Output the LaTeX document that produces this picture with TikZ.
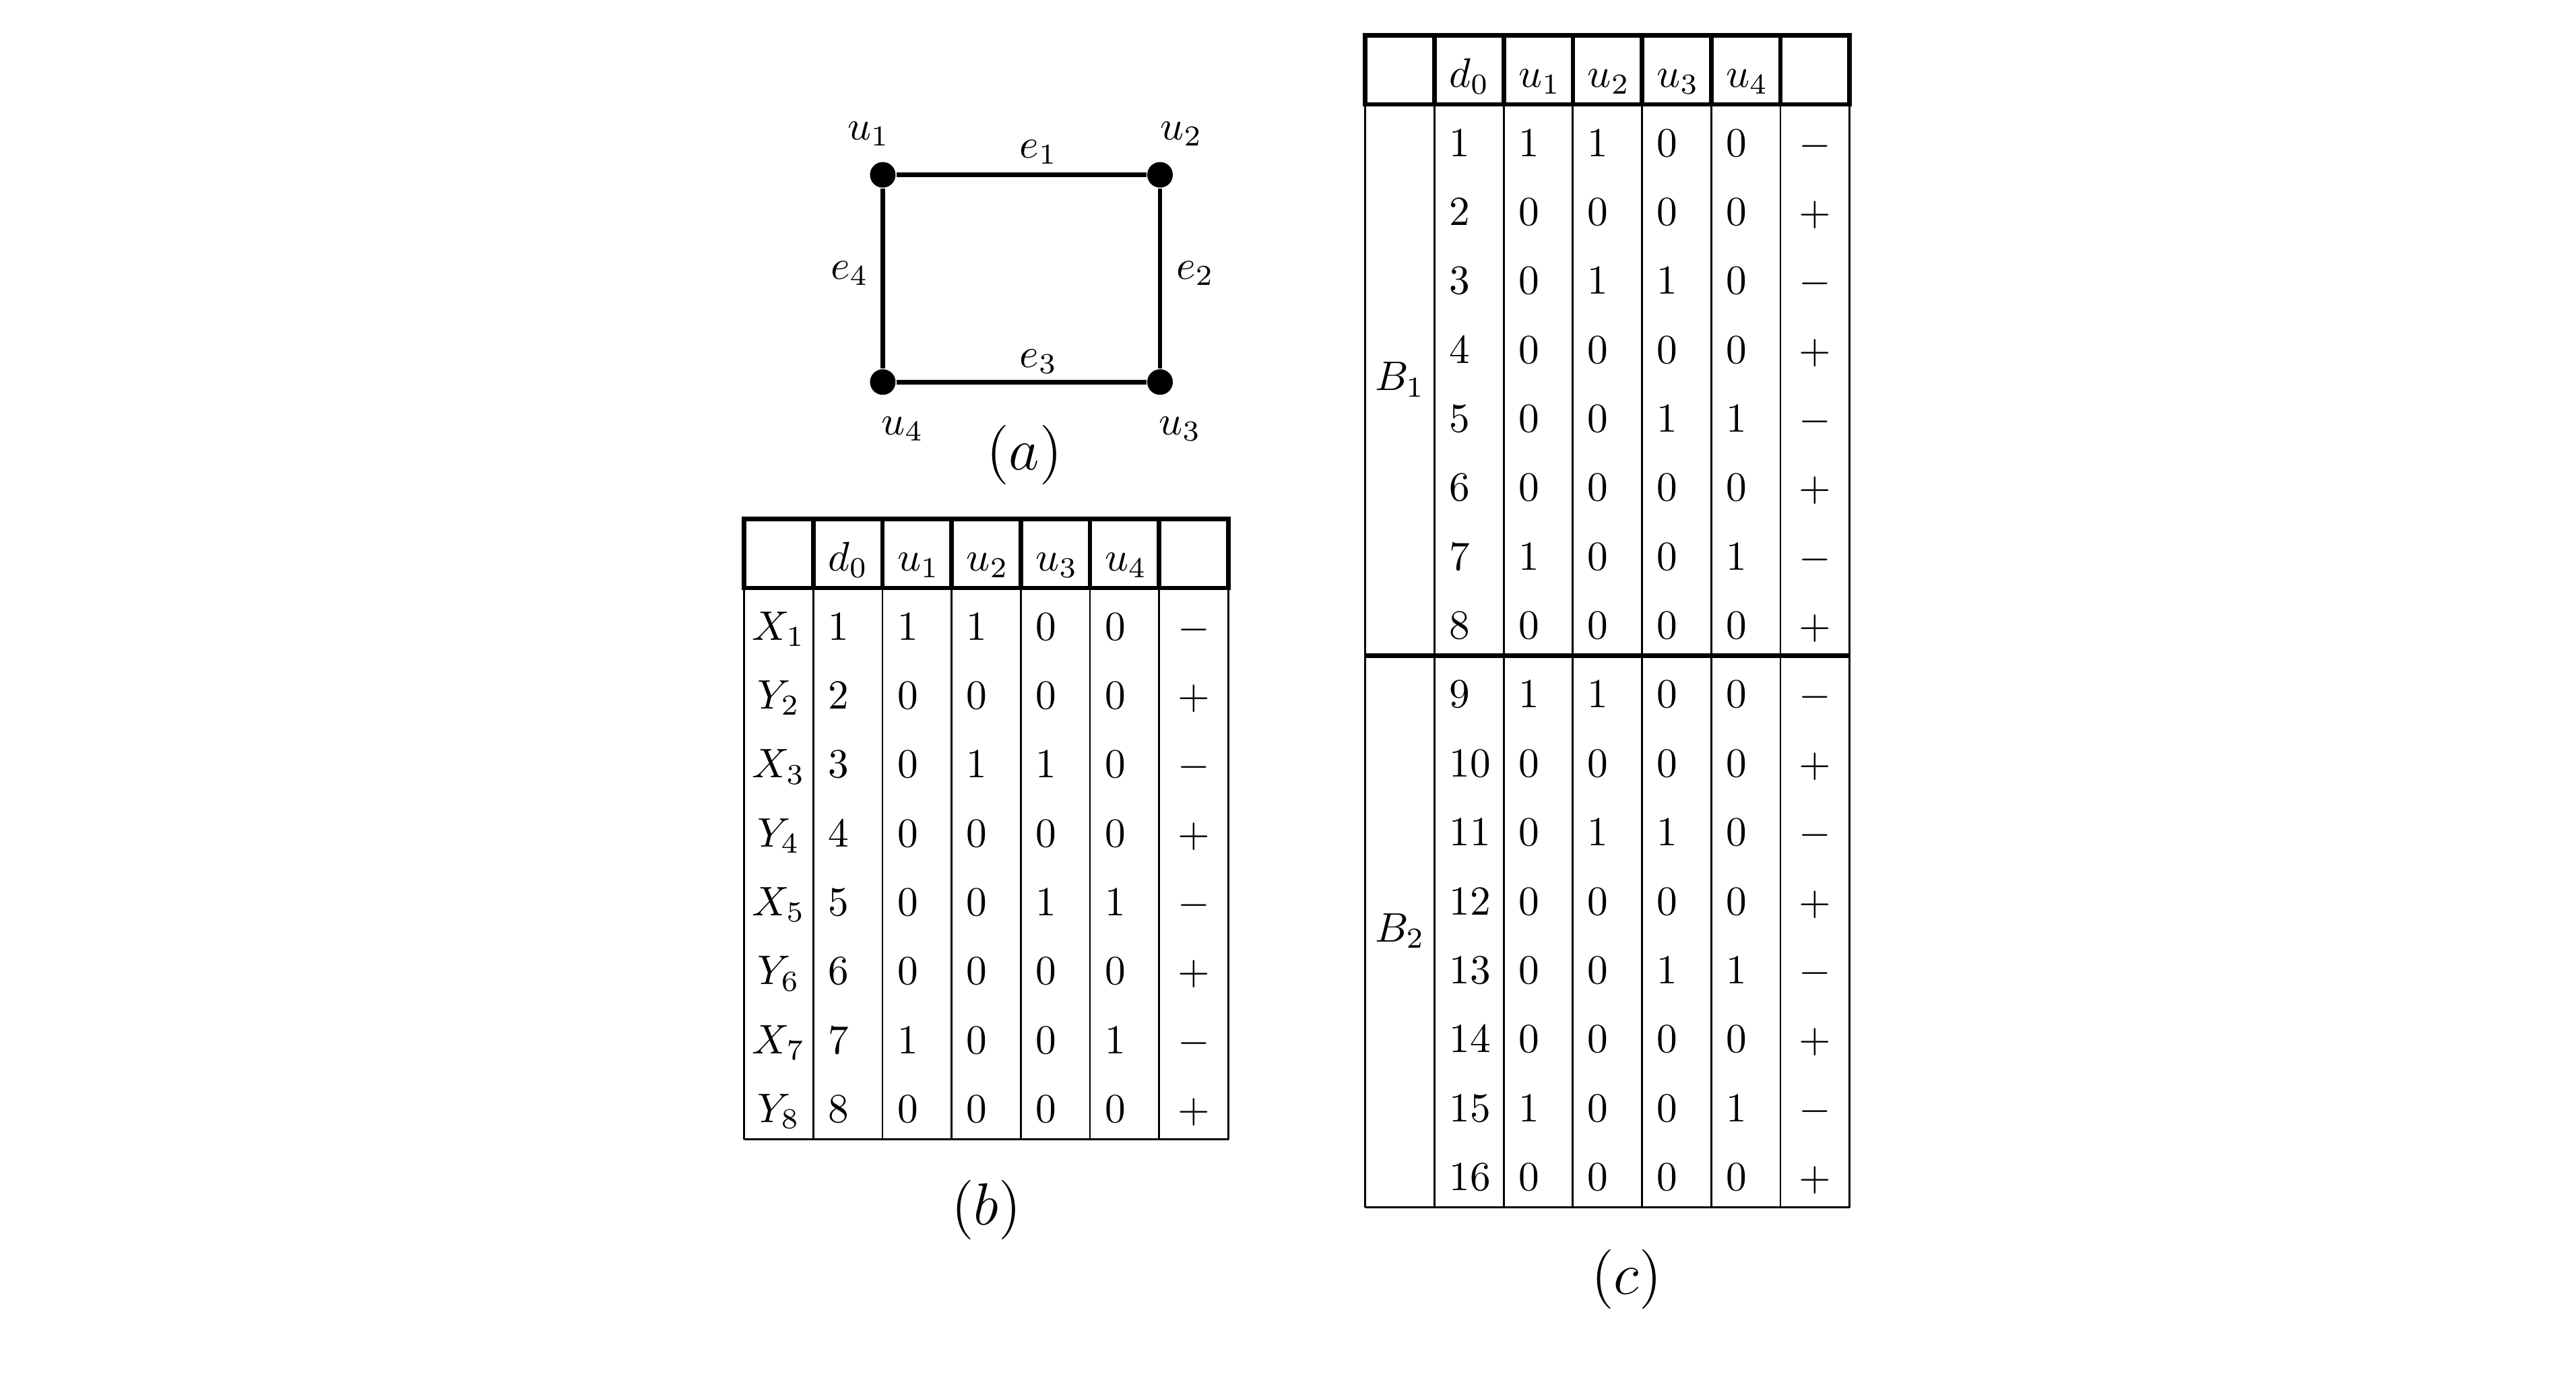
\documentclass[tikz,border=0pt]{standalone}
\begin{document}
\begin{tikzpicture}[x=0.4pt,y=-0.4pt,
  thinrule/.style={line width=0.45pt},
  thickrule/.style={line width=1.1pt},
  edgeline/.style={line width=1.1pt},
  vertex/.style={circle,fill=black,inner sep=0pt,minimum size=6.2pt},
  lab/.style={inner sep=0pt,font=\fontsize{10.4}{12}\selectfont},
  capt/.style={inner sep=0pt,font=\fontsize{15}{18}\selectfont},
  num/.style={anchor=base west,inner sep=0pt,font=\fontsize{10.4}{12}\selectfont},
  mid/.style={anchor=base,inner sep=0pt,font=\fontsize{10.4}{12}\selectfont}]
\useasboundingbox (0,0) rectangle (1560,832);
\fill[white] (0,0) rectangle (1560,832);
% ---------------- (a) graph ----------------
\node[vertex] (u1) at (534.6,105.9) {};
\node[vertex] (u2) at (702.5,105.9) {};
\node[vertex] (u3) at (702.5,231.4) {};
\node[vertex] (u4) at (534.6,231.4) {};
\draw[edgeline] (u1) -- (u2);
\draw[edgeline] (u2) -- (u3);
\draw[edgeline] (u3) -- (u4);
\draw[edgeline] (u4) -- (u1);
\node[lab] (lu1) at (526,81) {$u_1$};
\node[lab] (lu2) at (715.5,81) {$u_2$};
\node[lab] (lu3) at (714.7,259.7) {$u_3$};
\node[lab] (lu4) at (546.6,259.7) {$u_4$};
\node[lab] (le1) at (629,92) {$e_1$};
\node[lab] (le2) at (723.8,165.5) {$e_2$};
\node[lab] (le3) at (629,219) {$e_3$};
\node[lab] (le4) at (514.6,165.5) {$e_4$};
\node[capt] (capa) at (620.3,275.4) {$(a)$};
% ---------------- (b) table ----------------
\def\bl{450.6}\def\bt{314.4}\def\cw{41.9}\def\rh{41.75}
\pgfmathsetmacro\bhb{\bt+\rh}
\pgfmathsetmacro\bbot{\bhb+8*\rh}
\foreach \k in {0,...,7}{
  \draw[thinrule] (\bl+\k*\cw,\bhb) -- (\bl+\k*\cw,\bbot);
}
\draw[thinrule] (\bl,\bbot) -- (\bl+7*\cw,\bbot);
\draw[thickrule] (\bl,\bt) rectangle (\bl+7*\cw,\bhb);
\foreach \k in {1,...,6}{
  \draw[thickrule] (\bl+\k*\cw,\bt) -- (\bl+\k*\cw,\bhb);
}
\foreach \h [count=\k] in {d_0,u_1,u_2,u_3,u_4}{
  \node[num] (bh\k) at (\bl+\k*\cw+8.5,\bt+31.5) {$\h$};
}
\foreach \s/\d/\a/\b/\c/\e/\g [count=\i from 0] in
  {X_1/1/1/1/0/0/-,Y_2/2/0/0/0/0/+,X_3/3/0/1/1/0/-,Y_4/4/0/0/0/0/+,
   X_5/5/0/0/1/1/-,Y_6/6/0/0/0/0/+,X_7/7/1/0/0/1/-,Y_8/8/0/0/0/0/+}{
  \pgfmathsetmacro\yb{\bhb+\i*\rh+31.5}
  \node[mid] (b\i s) at (\bl+0.5*\cw,\yb) {$\s$};
  \node[num] (b\i d) at (\bl+1*\cw+8.5,\yb) {$\d$};
  \node[num] (b\i a) at (\bl+2*\cw+8.5,\yb) {$\a$};
  \node[num] (b\i b) at (\bl+3*\cw+8.5,\yb) {$\b$};
  \node[num] (b\i c) at (\bl+4*\cw+8.5,\yb) {$\c$};
  \node[num] (b\i e) at (\bl+5*\cw+8.5,\yb) {$\e$};
  \node[mid] (b\i g) at (\bl+6.5*\cw,\yb) {$\g$};
}
\node[capt] (capb) at (597.3,733) {$(b)$};
% ---------------- (c) table ----------------
\def\cl{826.8}\def\ct{21.5}
\pgfmathsetmacro\chb{\ct+\rh}
\pgfmathsetmacro\cmid{\chb+8*\rh}
\pgfmathsetmacro\cbot{\chb+16*\rh}
\foreach \k in {0,...,7}{
  \draw[thinrule] (\cl+\k*\cw,\chb) -- (\cl+\k*\cw,\cbot);
}
\draw[thinrule] (\cl,\cbot) -- (\cl+7*\cw,\cbot);
\draw[thickrule] (\cl,\ct) rectangle (\cl+7*\cw,\chb);
\foreach \k in {1,...,6}{
  \draw[thickrule] (\cl+\k*\cw,\ct) -- (\cl+\k*\cw,\chb);
}
\draw[thickrule] (\cl,\cmid) -- (\cl+7*\cw,\cmid);
\foreach \h [count=\k] in {d_0,u_1,u_2,u_3,u_4}{
  \node[num] (ch\k) at (\cl+\k*\cw+8.5,\ct+31.5) {$\h$};
}
\foreach \blk in {0,1}{
  \foreach \a/\b/\c/\e/\g [count=\i from 0] in
    {1/1/0/0/-,0/0/0/0/+,0/1/1/0/-,0/0/0/0/+,
     0/0/1/1/-,0/0/0/0/+,1/0/0/1/-,0/0/0/0/+}{
    \pgfmathtruncatemacro\rr{\i+8*\blk}
    \pgfmathtruncatemacro\d{\rr+1}
    \pgfmathsetmacro\yb{\chb+\rr*\rh+31.5}
    \node[num] (c\rr d) at (\cl+1*\cw+8.5,\yb) {$\d$};
    \node[num] (c\rr a) at (\cl+2*\cw+8.5,\yb) {$\a$};
    \node[num] (c\rr b) at (\cl+3*\cw+8.5,\yb) {$\b$};
    \node[num] (c\rr c) at (\cl+4*\cw+8.5,\yb) {$\c$};
    \node[num] (c\rr e) at (\cl+5*\cw+8.5,\yb) {$\e$};
    \node[mid] (c\rr g) at (\cl+6.5*\cw,\yb) {$\g$};
  }
}
\node[mid] (B1) at (\cl+0.5*\cw,236.6) {$B_1$};
\node[mid] (B2) at (\cl+0.5*\cw,570.5) {$B_2$};
\node[capt] (capc) at (985,775) {$(c)$};
\end{tikzpicture}
\end{document}
